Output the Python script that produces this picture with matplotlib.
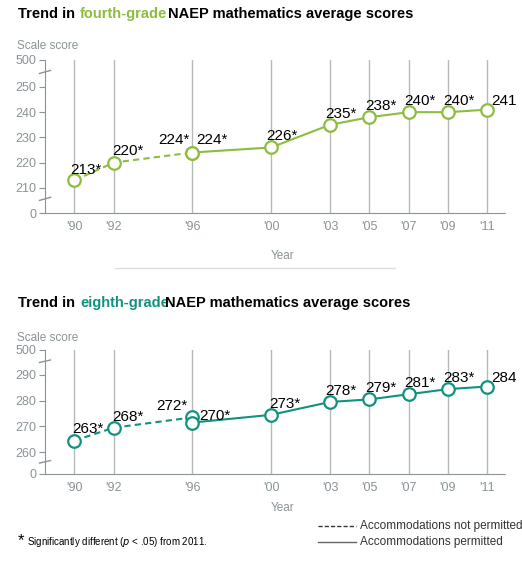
import matplotlib.pyplot as plt
from matplotlib.lines import Line2D

years4 = [1990, 1992, 1996, 1996, 2000, 2003, 2005, 2007, 2009, 2011]
scores4 = [213, 220, 224, 224, 226, 235, 238, 240, 240, 241]
labels4 = ["213*", "220*", "224*", "224*", "226*", "235*", "238*", "240*", "240*", "241"]

years8 = [1990, 1992, 1996, 1996, 2000, 2003, 2005, 2007, 2009, 2011]
scores8 = [264.5, 269.5, 273.5, 271.5, 274.5, 279.5, 280.5, 282.5, 284.5, 285.5]
labels8 = ["263*", "268*", "272*", "270*", "273*", "278*", "279*", "281*", "283*", "284"]

xticks = [1990, 1992, 1996, 2000, 2003, 2005, 2007, 2009, 2011]
xlabels = ["'90", "'92", "'96", "'00", "'03", "'05", "'07", "'09", "'11"]

W, H = 522, 573
fig = plt.figure(figsize=(W / 100, H / 100), dpi=100)
plt.rcParams['font.family'] = ['Liberation Sans', 'DejaVu Sans']
grey = '#8a9396'


def ax_at(l, t, r, b):
    return fig.add_axes([l / W, 1 - b / H, (r - l) / W, (b - t) / H])


def panel(ax, years, scores, labels, color, ymin, ymax, yticks, ytl, offs):
    ax.set_xlim(1988.5, 2011.9)
    ax.set_ylim(ymin, ymax)
    for s in ['top', 'right']:
        ax.spines[s].set_visible(False)
    for s in ['left', 'bottom']:
        ax.spines[s].set_color(grey)
    for x in xticks:
        ax.axvline(x, color='#b4b9bb', lw=1, zorder=0)
    ax.set_xticks(xticks, xlabels)
    ax.set_yticks(yticks, ytl)
    ax.tick_params(colors=grey, labelsize=9, length=4, pad=2)
    ax.tick_params(axis='x', length=0, pad=6)
    # dashed part: 1990-1996 (not permitted), solid: 1996 on
    ax.plot(years[:3], scores[:3], color=color, lw=1.5, ls=(0, (3, 2)), zorder=2)
    ax.plot(years[3:], scores[3:], color=color, lw=1.5, zorder=2)
    ax.plot(years, scores, 'o', ms=9, mfc='white', mec=color, mew=1.6, zorder=3)
    for x, y, t, (dx, dy) in zip(years, scores, labels, offs):
        ax.annotate(t, (x, y), xytext=(dx, dy), textcoords='offset points',
                    fontsize=11, ha='center', va='bottom', color='black')
    # axis break marks
    for yb in [ymin + (yticks[1] - ymin) / 2, ymax - (ymax - yticks[-2]) / 2]:
        ax.plot([-0.012, 0.012], [yb, yb + (ymax - ymin) * 0.02], color=grey,
                lw=1, transform=ax.get_yaxis_transform(), clip_on=False)
    ax.text(-0.06, 1.07, 'Scale score', transform=ax.transAxes, fontsize=8.5, color=grey)
    ax.text(0.49, -0.3, 'Year', transform=ax.transAxes, fontsize=8.5, color=grey)


offs4 = [(8, 2), (10, 3), (-13, 4), (14, 4), (8, 3), (8, 3), (8, 3), (8, 3), (8, 3), (12, 1)]
offs8 = [(10, 3), (10, 3), (-15, 3), (16, 0), (10, 3), (8, 3), (8, 3), (8, 3), (8, 3), (12, 1)]

ax1 = ax_at(45, 60, 505, 213)
panel(ax1, years4, scores4, labels4, '#8cbd3f', 200, 260.7,
      [200, 210, 220, 230, 240, 250, 260.7], ['0', '210', '220', '230', '240', '250', '500'], offs4)
ax2 = ax_at(45, 350, 505, 474)
panel(ax2, years8, scores8, labels8, '#11927e', 251.5, 299.7,
      [251.5, 260, 270, 280, 290, 299.7], ['0', '260', '270', '280', '290', '500'], offs8)

tkw = dict(fontsize=10.5, fontweight='bold', va='center')
fig.text(18 / W, 1 - 14 / H, 'Trend in', **tkw)
fig.text(80 / W, 1 - 14 / H, 'fourth-grade', color='#8cbd3f', **tkw)
fig.text(168 / W, 1 - 14 / H, 'NAEP mathematics average scores', **tkw)
fig.text(18 / W, 1 - 303 / H, 'Trend in', **tkw)
fig.text(80 / W, 1 - 303 / H, 'eighth-grade', color='#11927e', **tkw)
fig.text(165 / W, 1 - 303 / H, 'NAEP mathematics average scores', **tkw)

fig.add_artist(Line2D([115 / W, 395 / W], [1 - 268 / H] * 2, color='#dddddd', lw=1))

fig.text(18 / W, 1 - 541 / H, '*', fontsize=12, va='center')
fig.text(27 / W, 1 - 542 / H, 'Significantly different ($\\it{p}$ < .05) from 2011.', fontsize=7, va='center')

fig.add_artist(Line2D([318 / W, 356 / W], [1 - 526 / H] * 2, color='#333333', lw=1, ls=(0, (3, 1.5))))
fig.add_artist(Line2D([318 / W, 356 / W], [1 - 542 / H] * 2, color='#666666', lw=1))
fig.text(360 / W, 1 - 526 / H, 'Accommodations not permitted', fontsize=8.5, va='center', color='#333333')
fig.text(360 / W, 1 - 542 / H, 'Accommodations permitted', fontsize=8.5, va='center', color='#333333')

fig.savefig('out.png', dpi=100)
